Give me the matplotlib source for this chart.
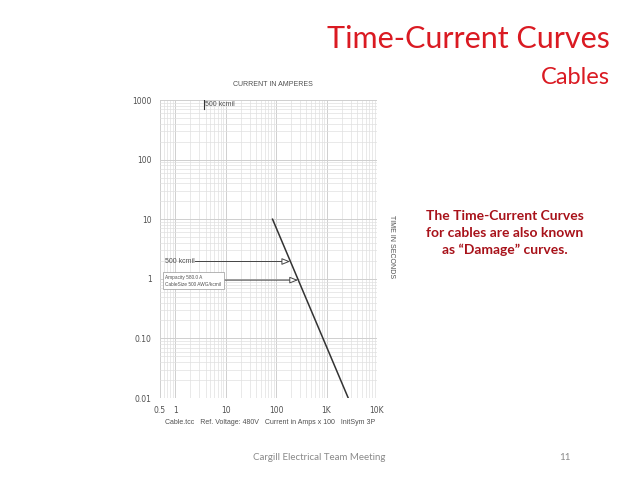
import matplotlib
matplotlib.use("Agg")
import matplotlib.pyplot as plt
from matplotlib.ticker import LogLocator, NullFormatter, FixedLocator

# cable damage curve (I^2 t line)
curve_amps = [85, 2690]
curve_secs = [10, 0.01]

# arrows to the curve
arrow_secs = [1.95, 0.95]
arrow_start = [2.5, 9.0]
arrow_end = [190, 272]

x_ticks = [0.5, 1, 10, 100, 1000, 10000]
x_labels = ["0.5", "1", "10", "100", "1K", "10K"]
y_ticks = [0.01, 0.1, 1, 10, 100, 1000]
y_labels = ["0.01", "0.10", "1", "10", "100", "1000"]

red = "#DA1A22"
dark_red = "#A8121A"
txt_c = "#505050"

fig = plt.figure(figsize=(6.38, 4.79), dpi=100)
ax = fig.add_axes([160 / 638, 1 - 398 / 479, 217 / 638, 298 / 479])
ax.set_xscale("log")
ax.set_yscale("log")
ax.set_xlim(0.5, 10000)
ax.set_ylim(0.01, 1000)

ax.xaxis.set_major_locator(FixedLocator(x_ticks))
ax.set_xticklabels(x_labels)
ax.yaxis.set_major_locator(FixedLocator(y_ticks))
ax.set_yticklabels(y_labels)
ax.xaxis.set_minor_locator(LogLocator(base=10, subs=range(2, 10), numticks=20))
ax.yaxis.set_minor_locator(LogLocator(base=10, subs=range(2, 10), numticks=20))
ax.xaxis.set_minor_formatter(NullFormatter())
ax.yaxis.set_minor_formatter(NullFormatter())
ax.tick_params(which="both", length=0, labelsize=5.5, colors=txt_c, pad=6)
ax.grid(which="major", color="#cfcfcf", lw=0.7)
ax.grid(which="minor", color="#e0e0e0", lw=0.5)
for s in ax.spines.values():
    s.set_visible(False)

ax.plot(curve_amps, curve_secs, color="#333333", lw=1.1)

for t, a0, a1 in zip(arrow_secs, arrow_start, arrow_end):
    ax.annotate("", xy=(a1, t), xytext=(a0, t),
                arrowprops=dict(arrowstyle="-|>,head_length=0.5,head_width=0.2",
                                color="#444444", fc="white", lw=0.7,
                                shrinkA=0, shrinkB=0))

ax.text(0.62, arrow_secs[0], "500 kcmil", fontsize=5, color=txt_c,
        va="center", ha="left", family="Liberation Sans")
ax.text(0.64, arrow_secs[1] * 0.97, "Ampacity 580.0 A\nCableSize 500 AWG/kcmil",
        fontsize=3.4, color=txt_c, va="center", ha="left", linespacing=1.3,
        family="Liberation Sans",
        bbox=dict(boxstyle="square,pad=0.6", fc="white", ec="#999999", lw=0.5))
ax.plot([3.7, 3.7], [700, 1000], color="#333333", lw=0.8)
ax.text(3.95, 830, "500 kcmil", fontsize=5, color=txt_c, va="center",
        ha="left", family="Liberation Sans")

fig.text(273 / 638, 1 - 84 / 479, "CURRENT IN AMPERES", fontsize=5, color=txt_c,
         ha="center", va="center", family="Liberation Sans")
fig.text(392 / 638, 1 - 247 / 479, "TIME IN SECONDS", fontsize=5, color=txt_c,
         ha="center", va="center", rotation=270, family="Liberation Sans")
fig.text(270 / 638, 1 - 423 / 479,
         "Cable.tcc   Ref. Voltage: 480V   Current in Amps x 100   InitSym 3P",
         fontsize=5, color=txt_c, ha="center", va="center", family="Liberation Sans")

# slide text
fig.text(610 / 638, 1 - 48 / 479, "Time-Current Curves", fontsize=22, color=red,
         ha="right", va="baseline", family="Lato")
fig.text(610 / 638, 1 - 84 / 479, "Cables", fontsize=17, color=red,
         ha="right", va="baseline", family="Lato")
fig.text(505 / 638, 1 - 233 / 479,
         "The Time-Current Curves\nfor cables are also known\nas \u201cDamage\u201d curves.",
         fontsize=10, color=dark_red, fontweight="bold", ha="center", va="center",
         linespacing=1.5, family="Lato")
fig.text(253 / 638, 1 - 458 / 479, "Cargill Electrical Team Meeting", fontsize=7,
         color="#8a8a8a", ha="left", va="center", family="Lato")
fig.text(565 / 638, 1 - 458 / 479, "11", fontsize=7, color="#8a8a8a",
         ha="center", va="center", family="Lato")

fig.savefig("out.png", dpi=100)
